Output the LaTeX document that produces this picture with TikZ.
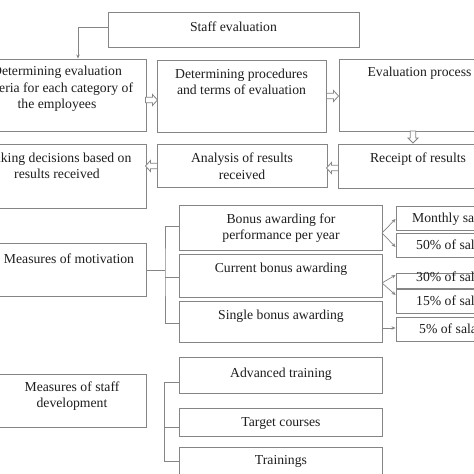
\documentclass[tikz,border=0pt]{standalone}
\usepackage{fontspec}
\setmainfont{Liberation Serif}
\usetikzlibrary{arrows.meta}
\definecolor{linegray}{HTML}{858585}
\definecolor{textc}{HTML}{1E1E1E}
\newcommand\mybox[5]{\node[box,minimum width={#4-#2},minimum height={#5-#3}] (#1) at ({(#2+#4)/2},{(#3+#5)/2}) {};}
% hollow block arrow pointing right, centred at the current shift
\newcommand\hollowright{(-6,-2.8) -- (1,-2.8) -- (1,-5.5) -- (6,0) -- (1,5.5) -- (1,2.8) -- (-6,2.8) -- cycle}
\newcommand\hollowdown{(-2.8,-6) -- (-2.8,1) -- (-5,1) -- (0,6) -- (5,1) -- (2.8,1) -- (2.8,-6) -- cycle}
\begin{document}
\begin{tikzpicture}[x=1pt,y=-1pt,
  box/.style={draw=linegray,line width=0.9pt,inner sep=0pt,rectangle},
  txt/.style={font=\fontsize{13.7}{16.5}\selectfont,text=textc,align=center,inner sep=0pt},
  conn/.style={draw=linegray,line width=0.8pt},
  thinarrow/.style={draw=linegray,line width=0.7pt,-{Stealth[length=4pt,width=3.5pt]}},
  hollow/.style={draw=linegray,line width=0.8pt,fill=white}]
\useasboundingbox (0,0) rectangle (474,474);
\fill[white] (0,0) rectangle (474,474);
\clip (0,0) rectangle (474,474);
% top section
\mybox{staff}{108}{12}{359}{47}
\node[txt] (tstaff) at (233.5,27) {Staff evaluation};
\mybox{b1}{-32}{59}{146}{131}
\node[txt] (tb1) at (57,89) {Determining evaluation\\criteria for each category of\\the employees};
\mybox{b2}{157}{60}{326}{132}
\node[txt] (tb2) at (241.5,82) {Determining procedures\\and terms of evaluation};
\mybox{b3}{339}{59}{500}{131}
\node[txt] (tb3) at (419.5,73) {Evaluation process};
\mybox{b4}{-32}{144}{146}{208}
\node[txt] (tb4) at (57,166) {Making decisions based on\\results received};
\mybox{b5}{157}{144}{327}{187}
\node[txt] (tb5) at (242,166) {Analysis of results\\received};
\mybox{b6}{338}{144}{498}{188}
\node[txt] (tb6) at (418,159) {Receipt of results};
% connectors top
\coordinate (k1) at (78,27);
\draw[thinarrow] (staff.west |- k1) -- (k1) -- (k1 |- b1.north);
\coordinate (a12) at (151.5,100);
\coordinate (a23) at (332.5,96);
\coordinate (a36) at (413,137);
\coordinate (a65) at (332.5,168);
\coordinate (a54) at (151.5,166);
\draw[hollow,shift={(a12)}] \hollowright;
\draw[hollow,shift={(a23)}] \hollowright;
\draw[hollow,shift={(a36)}] \hollowdown;
\draw[hollow,shift={(a65)},xscale=-1] \hollowright;
\draw[hollow,shift={(a54)},xscale=-1] \hollowright;
% motivation
\mybox{mot}{-10}{243}{146}{296}
\node[txt] (tmot) at (69,259) {Measures of motivation};
\mybox{bon}{179}{205}{382}{250}
\node[txt] (tbon) at (281,228) {Bonus awarding for\\performance per year};
\mybox{cur}{179}{254}{382}{297}
\node[txt] (tcur) at (281,269) {Current bonus awarding};
\mybox{sing}{179}{301}{382}{342}
\node[txt] (tsing) at (281,316) {Single bonus awarding};
\mybox{m1}{396}{206}{520}{230}
\node[txt,anchor=west] (tm1) at (412,219) {Monthly salary};
\mybox{m2}{396}{233}{520}{257}
\node[txt,anchor=west] (tm2) at (416,246) {50\% of salary};
\mybox{m3}{396}{273}{520}{288}
\node[txt,anchor=west] (tm3) at (416,278) {30\% of salary};
\mybox{m4}{396}{289}{520}{313}
\node[txt,anchor=west] (tm4) at (416,302) {15\% of salary};
\mybox{m5}{396}{317}{520}{341}
\node[txt,anchor=west] (tm5) at (419,330) {5\% of salary};
% bracket motivation
\coordinate (v1) at (165,270);
\draw[conn] (mot.east |- v1) -- (v1);
\draw[conn] (bon.west |- 0,226) -| (v1) |- (sing.west |- 0,323);
\draw[conn] (v1 |- 0,277) -- (cur.west |- 0,277);
% fans
\coordinate (f1) at (382,233);
\coordinate (f2) at (382,283);
\draw[thinarrow] (f1) -- (m1.west |- 0,219);
\draw[thinarrow] (f1) -- (m2.west |- 0,247);
\draw[thinarrow] (f2) -- (m3.west |- 0,275);
\draw[thinarrow] (f2) -- (m4.west |- 0,295);
\draw[thinarrow] (sing.east |- 0,328) -- (m5.west |- 0,328);
% development
\mybox{dev}{-2}{374}{146}{427}
\node[txt] (tdev) at (72,396) {Measures of staff\\development};
\mybox{adv}{179}{357}{382}{393}
\node[txt] (tadv) at (281,374) {Advanced training};
\mybox{tgt}{179}{408}{382}{436}
\node[txt] (ttgt) at (281,423) {Target courses};
\mybox{trn}{179}{447}{382}{500}
\node[txt] (ttrn) at (281,461) {Trainings};
\coordinate (v2) at (164,382);
\draw[conn] (adv.west |- v2) -- (v2) |- (trn.west |- 0,461);
\draw[conn] (v2 |- 0,427) -- (tgt.west |- 0,427);
\end{tikzpicture}
\end{document}
